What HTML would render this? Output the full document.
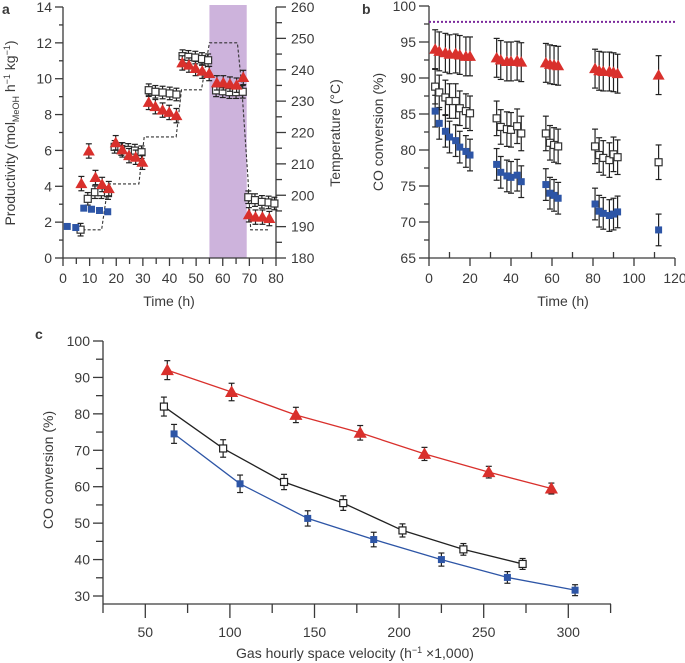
<!DOCTYPE html>
<html><head><meta charset="utf-8"><style>
html,body{margin:0;padding:0;background:#fff;}
svg{display:block;font-family:"Liberation Sans",Arial,sans-serif;}
text{fill:#3a3a3a;}
</style></head><body>
<svg id="fig" width="685" height="663" viewBox="0 0 685 663" xmlns="http://www.w3.org/2000/svg">
<g id="pa"></g>
<g id="pb"></g>
<g id="pc"></g>
</svg>
<script>
// ---------- Panel a data ----------
const aBlueT = [1.6,4.8,7.8,10.7,13.7,16.8];
const aBlueV = [1.76,1.7,2.78,2.72,2.65,2.58];
const aBlackT = [6.6,9.3,12,14.4,16.9, 19.4,21.9,24.5,27,29.5, 32.2,34.7,37.4,40.1,42.6, 44.9,47.1,49.7,52.2,54.5, 57.5,60,62.5,65,67.5, 69.6,72.1,74.7,77.2,79.4];
const aBlackV = [1.58,3.3,3.67,3.67,3.62, 6.2,6.08,6.03,5.99,5.9, 9.36,9.27,9.23,9.18,9.12, 11.26,11.22,11.18,11.1,11.03, 9.35,9.3,9.25,9.25,9.27, 3.39,3.23,3.13,3.1,3.04];
const aRedT = [6.9,9.7,12.2,14.7,17.2, 19.8,22.3,24.8,27.3,29.8, 32.2,34.7,37.4,39.9,42.6, 44.8,47.3,49.8,52.3,54.9, 57.8,60.2,62.7,65.2,67.7, 69.8,72.3,74.9,77.5];
const aRedV = [4.15,5.97,4.49,4.1,3.87, 6.43,6.03,5.71,5.62,5.34, 8.68,8.44,8.25,8.12,7.94, 10.88,10.76,10.57,10.42,10.29, 9.77,9.77,9.7,9.64,10.07, 2.41,2.28,2.28,2.2];
const aTempT = [5.5,14.5,17,28.5,30.5,42.5,44.5,52,55,65.5,67,69.5,70.5,77.5];
const aTempV = [189,189,203.6,203.6,218.6,218.6,233.6,233.6,248.6,248.6,236,205,189,189];
const aShade = [55,69];
const aXTicks = [0,10,20,30,40,50,60,70,80];
const aYTicks = [0,2,4,6,8,10,12,14];
const aY2Ticks = [180,190,200,210,220,230,240,250,260];
// ---------- Panel b data ----------
const bT = [3,5,8,10,13,15,18,20, 33,35,38,40,43,45, 57,59,61,63, 81,83,85,88,90,92, 112];
const bRed = [94,93.7,93.5,93.3,93.4,93.2,93,93, 92.8,92.5,92.3,92.3,92.4,92.2, 92.1,91.9,91.8,91.7, 91.3,91,90.9,90.9,90.8,90.6, 90.4];
const bBlack = [88.8,88,87.3,86.8,86.8,85.8,85.4,85.1, 84.4,83.2,82.9,82.8,83.3,82.3, 82.3,81,80.7,80.5, 80.5,79.3,78.9,78.6,79.4,79, 78.3];
const bBlue = [85.4,83.7,82.6,81.8,81.3,80.4,79.8,79.3, 78,76.9,76.4,76.2,76.5,75.6, 75.2,74,73.7,73.3, 72.5,71.5,71.2,70.9,71.1,71.4, 68.9];
const bEquil = [97.8];
const bXTicks = [0,20,40,60,80,100,120];
const bYTicks = [65,70,75,80,85,90,95,100];
// ---------- Panel c data ----------
const cRedX = [63,101,139,177,215,253,290];
const cRedY = [92,86,79.7,74.8,69,64,59.5];
const cBlackX = [61,96,132,167,202,238,273];
const cBlackY = [82,70.5,61.3,55.5,48,42.8,38.8];
const cBlueX = [67,106,146,185,225,264,304];
const cBlueY = [74.5,60.8,51.3,45.5,40,35.1,31.6];
const cErr = [2.6,2.4,2.1,2.0,1.8,1.6,1.5];
const cXTicks = [50,100,150,200,250,300];
const cYTicks = [30,40,50,60,70,80,90,100];

const NS = "http://www.w3.org/2000/svg";
const RED = "#d9302c", BLUE = "#2d55a6", INK = "#3a3a3a";
function mk(parent, tag, attrs, txt){
  const e = document.createElementNS(NS, tag);
  for (const k in attrs) e.setAttribute(k, attrs[k]);
  if (txt !== undefined) e.textContent = txt;
  parent.appendChild(e); return e;
}
function line(p,x1,y1,x2,y2,st,w){ return mk(p,"line",{x1,y1,x2,y2,stroke:st||INK,"stroke-width":w||1.3}); }
function errbar(p,x,y1,y2){
  line(p,x,y1,x,y2,"#222",1.2); line(p,x-3,y1,x+3,y1,"#222",1.2); line(p,x-3,y2,x+3,y2,"#222",1.2);
}
function tri(p,x,y,c,s){
  return mk(p,"polygon",{points:`${x},${y-s*0.6} ${x-s*0.6},${y+s*0.45} ${x+s*0.6},${y+s*0.45}`,fill:c});
}
function sq(p,x,y,s,fill,stroke){
  return mk(p,"rect",{x:x-s/2,y:y-s/2,width:s,height:s,fill:fill,stroke:stroke||"none","stroke-width":1.2});
}

// ================= Panel a =================
(function(){
  const g = document.getElementById("pa");
  const X = t => 63 + t*(276-63)/80;
  const Y = v => 258 - v*(258-7)/14;
  const Y2 = v => 258 - (v-180)*(258-7)/80;
  const sh = mk(g,"rect",{x:X(aShade[0]),y:5,width:X(aShade[1])-X(aShade[0]),height:253,fill:"#cdb3dc"});
  
  
  const lab = mk(g,"text",{x:2,y:14,"font-size":14,"font-weight":"bold"},"a");
   
  line(g,63,7,63,258); line(g,276,7,276,258); line(g,63,258,276,258);
  for (let v=0; v<=14; v+=1){ const maj = v%2===0; line(g,63,Y(v),maj?55:59,Y(v)); }
  aYTicks.forEach(v=>{ const t=mk(g,"text",{x:52,y:Y(v)+5,"font-size":14,"text-anchor":"end"},String(v));   });
  for (let v=180; v<=260; v+=5){ const maj=v%10===0; line(g,276,Y2(v),maj?286:282,Y2(v)); }
  aY2Ticks.forEach(v=>{ const t=mk(g,"text",{x:291,y:Y2(v)+5,"font-size":14},String(v));   });
  for (let t=0; t<=80; t+=5){ line(g,X(t),258,X(t),t%10===0?266:264); }
  aXTicks.forEach(v=>{ const t=mk(g,"text",{x:X(v),y:283,"font-size":14,"text-anchor":"middle"},String(v));   });
  const xl = mk(g,"text",{x:169,y:306,"font-size":14,"text-anchor":"middle"},"Time (h)");
   
  const yl = mk(g,"text",{transform:"translate(15,133) rotate(-90)","font-size":14,"text-anchor":"middle"});
   
  yl.innerHTML = 'Productivity (mol<tspan font-size="9" dy="4">MeOH</tspan><tspan dy="-4"> h</tspan><tspan font-size="9" dy="-5">−1</tspan><tspan dy="5"> kg</tspan><tspan font-size="9" dy="-5">−1</tspan><tspan dy="5">)</tspan>';
  const y2l = mk(g,"text",{transform:"translate(340,133) rotate(-90)","font-size":14,"text-anchor":"middle"},"Temperature (°C)");
   
  const tp = mk(g,"polyline",{points:aTempT.map((t,i)=>X(t)+","+Y2(aTempV[i])).join(" "),fill:"none",stroke:"#333","stroke-width":1.1,"stroke-dasharray":"3,2"});
   
  aBlackT.forEach((t,i)=>{ errbar(g,X(t),Y(aBlackV[i]+0.35),Y(aBlackV[i]-0.35)); });
  aBlackT.forEach((t,i)=>{ const r=sq(g,X(t),Y(aBlackV[i]),7,"#fff","#333");   });
  aRedT.forEach((t,i)=>{ errbar(g,X(t),Y(aRedV[i]+0.4),Y(aRedV[i]-0.4)); });
  aRedT.forEach((t,i)=>{ const r=tri(g,X(t),Y(aRedV[i]),RED,10);   });
  aBlueT.forEach((t,i)=>{ const r=sq(g,X(t),Y(aBlueV[i]),7,BLUE);   });
})();

// ================= Panel b =================
(function(){
  const g = document.getElementById("pb");
  const X = t => 429 + t*(675-429)/120;
  const Y = v => 258 - (v-65)*(258-6)/35;
  const lab = mk(g,"text",{x:362,y:14,"font-size":14,"font-weight":"bold"},"b");
   
  line(g,429,6,429,258); line(g,429,258,675,258);
  for (let v=65; v<=100; v+=2.5){ const maj=v%5===0; line(g,429,Y(v),maj?419:424,Y(v)); }
  bYTicks.forEach(v=>{ const t=mk(g,"text",{x:416,y:Y(v)+5,"font-size":14,"text-anchor":"end"},String(v));   });
  for (let t=0; t<=120; t+=10){ if (t%20===0) line(g,X(t),258,X(t),266); else line(g,X(t),258,X(t),252); }
  bXTicks.forEach(v=>{ const t=mk(g,"text",{x:X(v),y:283,"font-size":14,"text-anchor":"middle"},String(v));   });
  const xl = mk(g,"text",{x:563,y:306,"font-size":14,"text-anchor":"middle"},"Time (h)");
   
  const yl = mk(g,"text",{transform:"translate(383,132) rotate(-90)","font-size":14,"text-anchor":"middle"},"CO conversion (%)");
   
  const eq = mk(g,"line",{x1:X(0),y1:Y(bEquil[0]),x2:X(120),y2:Y(bEquil[0]),stroke:"#7b2a9c","stroke-width":2,"stroke-dasharray":"2,2"});
   
  bT.forEach((t,i)=>{ errbar(g,X(t),Y(bRed[i]+2.7),Y(bRed[i]-2.7)); errbar(g,X(t),Y(bBlack[i]+2.4),Y(bBlack[i]-2.4)); errbar(g,X(t),Y(bBlue[i]+2.2),Y(bBlue[i]-2.2)); });
  bT.forEach((t,i)=>{
    const r=tri(g,X(t),Y(bRed[i]),RED,10);  
    const k=sq(g,X(t),Y(bBlack[i]),7,"#fff","#333");  
    const b=sq(g,X(t),Y(bBlue[i]),7,BLUE);  
  });
})();

// ================= Panel c =================
(function(){
  const g = document.getElementById("pc");
  const X = v => 103 + (v-25)*1.692;
  const Y = v => 341 + (100-v)*(596-341)/70;
  const lab = mk(g,"text",{x:35,y:339,"font-size":14,"font-weight":"bold"},"c");
   
  line(g,103,341,103,604); line(g,103,604,611,604);
  for (let v=30; v<=100; v+=5){ const maj=v%10===0; line(g,103,Y(v),maj?93:96,Y(v)); }
  cYTicks.forEach(v=>{ const t=mk(g,"text",{x:90,y:Y(v)+5,"font-size":14,"text-anchor":"end"},String(v));   });
  for (let v=25; v<=325; v+=25){ const maj=v%50===0; line(g,X(v),604,X(v),maj?618:613); }
  cXTicks.forEach(v=>{ const t=mk(g,"text",{x:X(v),y:637,"font-size":14,"text-anchor":"middle"},String(v));   });
  const xl = mk(g,"text",{x:355,y:658,"font-size":14,"text-anchor":"middle"});
   
  xl.innerHTML = 'Gas hourly space velocity (h<tspan font-size="9" dy="-5">−1</tspan><tspan dy="5"> ×1,000)</tspan>';
  const yl = mk(g,"text",{transform:"translate(53,470) rotate(-90)","font-size":14,"text-anchor":"middle"},"CO conversion (%)");
   
  const series = [[cRedX,cRedY,RED,"red-series-line"],[cBlackX,cBlackY,"#222","black-series-line"],[cBlueX,cBlueY,BLUE,"blue-series-line"]];
  series.forEach(s=>{
    const pl = mk(g,"polyline",{points:s[0].map((x,i)=>X(x)+","+Y(s[1][i])).join(" "),fill:"none",stroke:s[2],"stroke-width":1.3});
    
    
    s[0].forEach((x,i)=>errbar(g,X(x),Y(s[1][i]+cErr[i]),Y(s[1][i]-cErr[i])));
  });
  cRedX.forEach((x,i)=>{ const r=tri(g,X(x),Y(cRedY[i]),RED,11);   });
  cBlackX.forEach((x,i)=>{ const r=sq(g,X(x),Y(cBlackY[i]),7,"#fff","#222");   });
  cBlueX.forEach((x,i)=>{ const r=sq(g,X(x),Y(cBlueY[i]),7,BLUE);   });
})();
</script>
</body></html>
